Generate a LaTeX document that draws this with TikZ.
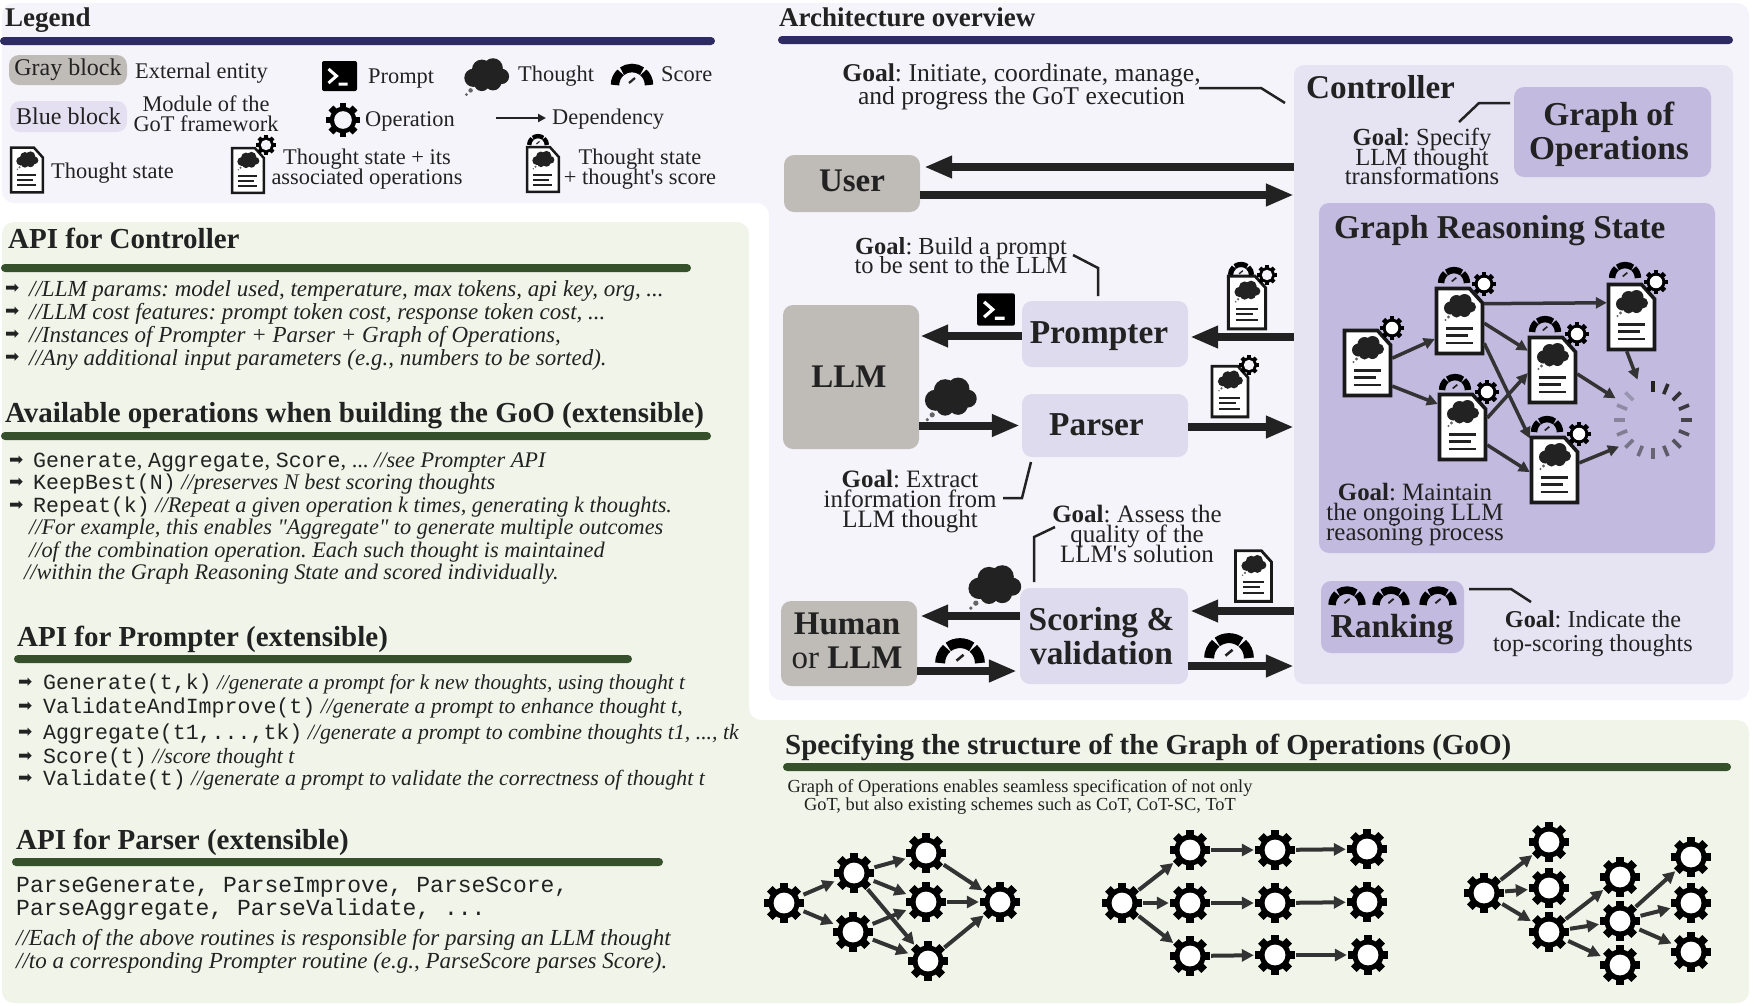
\documentclass[tikz,border=0pt]{standalone}
\usepackage{fontspec}
\setmainfont{Liberation Serif}[Ligatures=TeXOff]
\setmonofont{Liberation Mono}[Ligatures=TeXOff]
\newfontfamily\arrowfont{DejaVu Sans}
\usetikzlibrary{arrows.meta,calc}
\definecolor{ink}{HTML}{222222}
\definecolor{lav}{HTML}{F6F4FB}
\definecolor{grn}{HTML}{F1F5E9}
\definecolor{ctrlbg}{HTML}{E6E3F2}
\definecolor{lightblk}{HTML}{DFDBEE}
\definecolor{midblk}{HTML}{C2BBDF}
\definecolor{grayblk}{HTML}{BFBCB7}
\definecolor{navybar}{HTML}{2E2B63}
\definecolor{grnbar}{HTML}{35502B}
\definecolor{arrgray}{HTML}{333333}
\tikzset{
  x=1pt,y=-1pt,
  blk/.style={rectangle,rounded corners=10pt,inner sep=0pt,align=center,text=ink},
  bigarr/.style={draw=ink,line width=8pt,-{Triangle[length=28pt,width=21pt]}},
  medarr/.style={draw=arrgray,line width=3.5pt,-{Triangle[length=11pt,width=11pt]}},
  specarr/.style={draw=arrgray,line width=4pt,-{Triangle[length=12pt,width=12pt]}},
  callout/.style={draw=ink,line width=2.5pt},
  gearspot/.style={circle,minimum size=42pt,inner sep=0pt},
  docspot/.style={rectangle,minimum width=49pt,minimum height=68pt,inner sep=0pt},
  bar/.style={rounded corners=4pt,draw=none}
}
\newcount\tcnt
\newcommand\tightlines{\lineskiplimit=-100pt\relax}
% left-aligned line: x, visual centre y, size, content
\newcommand\TL[4]{\global\advance\tcnt by 1
  \node[name=t\the\tcnt,anchor=base west,inner sep=0pt,text=ink] at ({#1},{#2+0.28*#3}) {\fontsize{#3}{#3}\selectfont #4};}
% centred line
\newcommand\TC[4]{\global\advance\tcnt by 1
  \node[name=t\the\tcnt,anchor=base,inner sep=0pt,text=ink] at ({#1},{#2+0.28*#3}) {\fontsize{#3}{#3}\selectfont #4};}
% multi-line centred: x, y, size, skip, content
\newcommand\MT[5]{\global\advance\tcnt by 1
  \node[name=t\the\tcnt,inner sep=0pt,align=center,text=ink,font=\fontsize{#3}{#4}\selectfont\tightlines] at ({#1},{#2}) {#5};}
\newcommand\BUL[3]{\global\advance\tcnt by 1
  \node[name=t\the\tcnt,anchor=west,inner sep=0pt,text=ink] at ({#1},{#2}) {\fontsize{#3}{#3}\selectfont\arrowfont ➡};}
\newcommand\mn[1]{{\fontsize{21.6}{22}\selectfont\ttfamily #1}}
\newcommand\mnb[1]{{\fontsize{23}{23}\selectfont\ttfamily #1}}
\newcommand\CloudIcon[3]{\begin{scope}[shift={(#1,#2)},scale=#3]
  \fill[ink] (-9,2) circle[radius=6.5pt] (-3,-4) circle[radius=7pt] (5,-5) circle[radius=7pt]
    (11,1) circle[radius=5.5pt] (5,5) circle[radius=6pt] (-3,6) circle[radius=5.5pt] (0,0) circle[radius=8pt];
  \fill[ink!70] (-11,11) circle[radius=1.6pt] (-14,14) circle[radius=1.1pt];
  \end{scope}}
\newcommand\DocIcon[3]{\begin{scope}[shift={(#1,#2)},scale=#3]
  \pgfmathsetmacro\lwa{3.6*#3}\pgfmathsetmacro\lwb{2.6*#3}
  \filldraw[fill=white,draw=black!90,line width=\lwa pt,line join=miter] (-23,-32.5)--(10,-32.5)--(23,-18)--(23,32.5)--(-23,32.5)--cycle;
  \CloudIcon{0}{-15}{1}
  \draw[ink,line width=\lwb pt] (-14,7.7)--(13,7.7) (-14,14.7)--(8,14.7) (-14,22)--(13,22);
  \end{scope}}
\newcommand\GaugeIcon[3]{\begin{scope}[shift={(#1,#2)},scale=#3]
  \pgfmathsetmacro\lwa{8.5*#3}\pgfmathsetmacro\lwb{2.2*#3}
  \draw[black,line width=\lwa pt] (0:17pt) arc[start angle=0,end angle=48,radius=17pt];
  \draw[black,line width=\lwa pt] (54:17pt) arc[start angle=54,end angle=126,radius=17pt];
  \draw[black,line width=\lwa pt] (132:17pt) arc[start angle=132,end angle=180,radius=17pt];
  \draw[ink,line width=\lwb pt] (-3pt,2pt)--(3pt,7pt);
  \end{scope}}
% x y R holecolour
\newcommand\GearIcon[4]{\begin{scope}[shift={(#1,#2)}]
  \fill[black] (0,0) circle[radius=#3*0.78pt];
  \foreach \a in {0,45,90,135}{\fill[black,rotate=\a] ({-#3*0.2},{-#3}) rectangle ({#3*0.2},{#3});}
  \fill[#4] (0,0) circle[radius=#3*0.52pt];
  \end{scope}}
\newcommand\PromptIcon[3]{\begin{scope}[shift={(#1,#2)},scale=#3]
  \pgfmathsetmacro\lwa{3*#3}
  \fill[black,rounded corners=2pt] (-17.5,-15) rectangle (17.5,15);
  \draw[white,line width=\lwa pt] (-11,-7)--(-3,0)--(-11,7) (-1,8)--(8,8);
  \end{scope}}
\begin{document}
\frenchspacing
\begin{tikzpicture}
\useasboundingbox (0,0) rectangle (1755,1005);
\fill[white] (0,0) rectangle (1755,1005);
% panels
\fill[lav,rounded corners=12pt] (2,3)--(1749,3)--(1749,700)--(769,700)--(769,203)--(2,203)--cycle;
\fill[grn,rounded corners=12pt] (2,222)--(749,222)--(749,720)--(1749,720)--(1749,1003)--(2,1003)--cycle;
% bars
\fill[navybar,bar] (0,37) rectangle (715,45);
\fill[navybar,bar] (778,36) rectangle (1733,44);
\fill[grnbar,bar] (1,264) rectangle (691,272);
\fill[grnbar,bar] (1,432) rectangle (711,440);
\fill[grnbar,bar] (14,655) rectangle (632,663);
\fill[grnbar,bar] (12,858) rectangle (663,866);
\fill[grnbar,bar] (783,763) rectangle (1731,771);
% headings
\TL{5}{19}{27}{\textbf{Legend}}
\TL{779}{19}{27}{\textbf{Architecture overview}}
\TL{8}{240.5}{29}{\textbf{API for Controller}}
\TL{5}{414.5}{29}{\textbf{Available operations when building the GoO (extensible)}}
\TL{17}{638.5}{29}{\textbf{API for Prompter (extensible)}}
\TL{16}{841}{29}{\textbf{API for Parser (extensible)}}
\TL{785}{746}{29}{\textbf{Specifying the structure of the Graph of Operations (GoO)}}
% legend
\node[blk,fill=grayblk,minimum width=118pt,minimum height=30pt] (lgray) at (68,70) {\fontsize{24}{24}\selectfont Gray block};
\node[blk,fill=lightblk!80!lav,minimum width=117pt,minimum height=31pt] (lblue) at (68.5,116.5) {\fontsize{24}{24}\selectfont Blue block};
\TL{135}{72}{22.4}{External entity}
\MT{206}{114}{22.4}{20}{Module of the\\GoT framework}
\PromptIcon{339.5}{76}{1}
\TL{368}{77.5}{22.4}{Prompt}
\CloudIcon{486}{75}{1.4}
\TL{518}{75}{22.4}{Thought}
\GaugeIcon{632}{85}{1}
\TL{661}{75}{22.4}{Score}
\GearIcon{343}{120}{17}{lav}
\TL{365}{120}{22.4}{Operation}
\coordinate (depA) at (496,118);
\coordinate (depB) at (546,118);
\draw[draw=ink,line width=2.5pt,-{Triangle[length=8pt,width=8pt]}] (depA) -- (depB);
\TL{552}{118}{22.4}{Dependency}
\DocIcon{27}{170}{0.69}
\TL{51}{172}{22.4}{Thought state}
\DocIcon{248}{170.5}{0.69}
\GearIcon{266}{145}{10}{lav}
\MT{367}{169}{22.4}{20}{Thought state + its\\associated operations}
\DocIcon{543}{169.5}{0.69}
\GaugeIcon{538}{145}{0.52}
\MT{640}{169}{22.4}{20}{Thought state\\+ thought's score}
% API for controller
\BUL{5}{289}{17}\TL{29}{290}{23}{\textit{//LLM params: model used, temperature, max tokens, api key, org, ...}}
\BUL{5}{312}{17}\TL{29}{313}{23}{\textit{//LLM cost features: prompt token cost, response token cost, ...}}
\BUL{5}{335}{17}\TL{29}{336}{23}{\textit{//Instances of Prompter + Parser + Graph of Operations,}}
\BUL{5}{358}{17}\TL{29}{359}{23}{\textit{//Any additional input parameters (e.g., numbers to be sorted).}}
% available operations
\BUL{9}{461}{17}\TL{33}{461.5}{22.3}{\mn{Generate}, \mn{Aggregate}, \mn{Score}, ... \textit{//see Prompter API}}
\BUL{9}{483}{17}\TL{33}{483.5}{22.3}{\mn{KeepBest(N)} \textit{//preserves N best scoring thoughts}}
\BUL{9}{506}{17}\TL{33}{506.5}{22.3}{\mn{Repeat(k)} \textit{//Repeat a given operation k times, generating k thoughts.}}
\TL{29}{528.5}{22.3}{\textit{//For example, this enables "Aggregate" to generate multiple outcomes}}
\TL{29}{551.5}{22.3}{\textit{//of the combination operation. Each such thought is maintained}}
\TL{24}{573.5}{22.3}{\textit{//within the Graph Reasoning State and scored individually.}}
% prompter
\BUL{18}{683}{17}\TL{43}{683.5}{21.2}{\mn{Generate(t,k)} \textit{//generate a prompt for k new thoughts, using thought t}}
\BUL{18}{707}{17}\TL{43}{707.5}{21.8}{\mn{ValidateAndImprove(t)} \textit{//generate a prompt to enhance thought t,}}
\BUL{18}{733}{17}\TL{43}{733.5}{21.8}{\mn{Aggregate(t1,...,tk)} \textit{//generate a prompt to combine thoughts t1, ..., tk}}
\BUL{18}{757}{17}\TL{43}{757.5}{21.8}{\mn{Score(t)} \textit{//score thought t}}
\BUL{18}{779}{17}\TL{43}{779.5}{21.8}{\mn{Validate(t)} \textit{//generate a prompt to validate the correctness of thought t}}
% parser
\TL{16}{886}{22}{\mnb{ParseGenerate, ParseImprove, ParseScore,}}
\TL{16}{909}{22}{\mnb{ParseAggregate, ParseValidate, ...}}
\TL{16}{939}{23}{\textit{//Each of the above routines is responsible for parsing an LLM thought}}
\TL{16}{962.5}{23}{\textit{//to a corresponding Prompter routine (e.g., ParseScore parses Score).}}
% architecture blocks
\node[blk,fill=ctrlbg,minimum width=439pt,minimum height=619pt] (ctrl) at (1513.5,374.5) {};
\node[blk,fill=midblk,minimum width=197pt,minimum height=90pt] (goo) at (1612.5,132) {};
\node[blk,fill=midblk,minimum width=396pt,minimum height=350pt] (grs) at (1517,378) {};
\node[blk,fill=grayblk,minimum width=136pt,minimum height=57pt] (user) at (852,183.5) {};
\node[blk,fill=grayblk,minimum width=136pt,minimum height=144pt] (llm) at (851,377) {};
\node[blk,fill=lightblk,minimum width=166pt,minimum height=66pt] (prompter) at (1105,334) {};
\node[blk,fill=lightblk,minimum width=166pt,minimum height=63pt] (parser) at (1105,425.5) {};
\node[blk,fill=lightblk,minimum width=168pt,minimum height=96pt] (scoring) at (1104,636) {};
\node[blk,fill=grayblk,minimum width=136pt,minimum height=85pt] (human) at (849,643.5) {};
\node[blk,fill=midblk,minimum width=143pt,minimum height=72pt] (ranking) at (1392.5,617) {};
\TC{852}{182.5}{33}{\textbf{User}}
\TC{849}{378}{33}{\textbf{LLM}}
\MT{1609}{134}{33.4}{34}{\textbf{Graph of}\\\textbf{Operations}}
\TC{1099}{334}{33.4}{\textbf{Prompter}}
\TC{1096.5}{426.5}{33.4}{\textbf{Parser}}
\MT{1101.5}{636}{33.4}{34}{\textbf{Scoring \&}\\\textbf{validation}}
\MT{847}{641}{33}{34}{\textbf{Human}\\or \textbf{LLM}}
\TL{1306}{89}{33.2}{\textbf{Controller}}
\TL{1334}{229}{33.3}{\textbf{Graph Reasoning State}}
\TC{1392}{628}{33.5}{\textbf{Ranking}}
% big arrows
\draw[bigarr] ([yshift=16.5pt]ctrl.west |- user.east) -- ([yshift=16.5pt,xshift=4pt]user.east);
\draw[bigarr] ([yshift=-11.5pt]user.east) -- ([yshift=-11.5pt]ctrl.west |- user.east);
\draw[bigarr] ([yshift=-2pt]prompter.west) -- ([yshift=-2pt,xshift=1pt]llm.east |- prompter.west);
\draw[bigarr] ([yshift=-3pt]ctrl.west |- prompter.east) -- ([yshift=-3pt,xshift=2pt]prompter.east);
\draw[bigarr] (llm.east |- parser.west) -- ([xshift=-2pt]parser.west);
\draw[bigarr] ([yshift=-1.5pt]parser.east) -- ([yshift=-1.5pt]ctrl.west |- parser.east);
\draw[bigarr] ([yshift=20pt]scoring.west) -- ([yshift=20pt,xshift=3pt]human.east |- scoring.west);
\draw[bigarr] ([yshift=-35pt]human.east |- scoring.west) -- ([yshift=-35pt,xshift=-3pt]scoring.west);
\draw[bigarr] ([yshift=25pt]ctrl.west |- scoring.east) -- ([yshift=25pt,xshift=2pt]scoring.east);
\draw[bigarr] ([yshift=-30pt]scoring.east) -- ([yshift=-30pt]ctrl.west |- scoring.east);
% icons on the arrows
\PromptIcon{996}{309.5}{1.08}
\DocIcon{1247}{302.5}{0.81}
\GaugeIcon{1241}{275}{0.62}
\GearIcon{1267}{275}{10}{lav}
\DocIcon{1230}{391.5}{0.78}
\GearIcon{1249}{365}{10}{lav}
\CloudIcon{950}{397}{1.62}
\CloudIcon{994}{585}{1.65}
\GaugeIcon{960}{663}{1.17}
\DocIcon{1253.5}{576}{0.78}
\GaugeIcon{1229}{658}{1.17}
\GaugeIcon{1347}{605}{0.88}
\GaugeIcon{1391}{605}{0.88}
\GaugeIcon{1438}{605}{0.88}
% goal labels and callouts
\MT{1021.5}{87}{25.6}{23.5}{\textbf{Goal}: Initiate, coordinate, manage,\\and progress the GoT execution}
\coordinate (c1a) at (1199,88); \coordinate (c1b) at (1261,88); \coordinate (c1c) at (1285,103);
\draw[callout] (c1a)--(c1b)--(c1c);
\MT{1422}{156.5}{24.6}{19.6}{\textbf{Goal}: Specify\\LLM thought\\transformations}
\coordinate (c2a) at (1510,103); \coordinate (c2b) at (1479,103); \coordinate (c2c) at (1459,122);
\draw[callout] (c2a)--(c2b)--(c2c);
\MT{961}{255.5}{24.5}{19}{\textbf{Goal}: Build a prompt\\to be sent to the LLM}
\coordinate (c3a) at (1073,255); \coordinate (c3b) at (1098,268); \coordinate (c3c) at (1098,296);
\draw[callout] (c3a)--(c3b)--(c3c);
\MT{910}{501.5}{25}{20}{\textbf{Goal}: Extract\\information from\\LLM thought}
\coordinate (c4a) at (1031,462); \coordinate (c4b) at (1022,498); \coordinate (c4c) at (1003,498);
\draw[callout] (c4a)--(c4b)--(c4c);
\MT{1137}{534}{25}{20}{\textbf{Goal}: Assess the\\quality of the\\LLM's solution}
\coordinate (c5a) at (1055,527); \coordinate (c5b) at (1034,537); \coordinate (c5c) at (1034,582);
\draw[callout] (c5a)--(c5b)--(c5c);
\MT{1593}{634}{24.2}{24}{\textbf{Goal}: Indicate the\\top-scoring thoughts}
\coordinate (c6a) at (1469,589); \coordinate (c6b) at (1511,589); \coordinate (c6c) at (1531,602);
\draw[callout] (c6a)--(c6b)--(c6c);
\MT{1415}{515}{24.9}{20}{\textbf{Goal}: Maintain\\the ongoing LLM\\reasoning process}
% graph reasoning state
\node[docspot] (dA) at (1367.5,363) {};
\node[docspot] (dB) at (1459.5,321) {};
\node[docspot] (dC) at (1462.5,427) {};
\node[docspot] (dD) at (1552.5,370) {};
\node[docspot] (dE) at (1554.5,470) {};
\node[docspot] (dF) at (1631.5,317) {};
\node[circle,minimum size=86pt,inner sep=0pt] (spin) at (1653,420) {};
\DocIcon{1367.5}{363}{1}\GearIcon{1392}{328}{12}{white}
\DocIcon{1459.5}{321}{1}\GaugeIcon{1454}{283}{0.76}\GearIcon{1484}{284}{12}{white}
\DocIcon{1462.5}{427}{1}\GaugeIcon{1455}{390}{0.76}\GearIcon{1487}{392}{12}{white}
\DocIcon{1552.5}{370}{1}\GaugeIcon{1545}{332}{0.76}\GearIcon{1577}{334}{12}{white}
\DocIcon{1554.5}{470}{1}\GaugeIcon{1547}{432}{0.76}\GearIcon{1579}{434}{12}{white}
\DocIcon{1631.5}{317}{1}\GaugeIcon{1625}{278}{0.76}\GearIcon{1656}{282}{12}{white}
\draw[medarr] (dA.11) -- (dB.216);
\draw[medarr] (dA.-43) -- (dC.137);
\draw[medarr] (dB.35) -- (dF.150);
\draw[medarr] (dB.-5) -- (dD.142);
\draw[medarr] (dB.-42) -- (dE.128);
\draw[medarr] (dC.20) -- (dD.187);
\draw[medarr] (dC.-36) -- (dE.185);
\draw[medarr] (dD.-9) -- (spin.150);
\draw[medarr] (dE.16) -- (spin.218);
\draw[medarr] (dF.262) -- (spin.111);
\foreach \i in {0,...,14}{
  \pgfmathsetmacro\ang{90-22.5*\i}
  \pgfmathtruncatemacro\op{100-5.3*\i}
  \draw[ink!\op!midblk,line width=3.6pt] ([shift={(\ang:28pt)}]spin.center) -- ([shift={(\ang:39pt)}]spin.center);
}
% specification graphs
\MT{1020}{797}{18.4}{18}{Graph of Operations enables seamless specification of not only\\GoT, but also existing schemes such as CoT, CoT-SC, ToT}
\foreach \n/\x/\y in {g1/784/903,g2/854/873,g3/853/932,g4/926/853,g5/926/902,g6/928/961,g7/1000/902,
  m0/1122/903,m1/1190/850,m2/1275/850,m3/1367/849,m4/1190/903,m5/1275/903,m6/1367/902,m7/1190/956,m8/1275/955,m9/1368/955,
  a0/1484/893,b1/1549/842,b2/1549/888,b3/1549/932,k1/1620/877,k2/1620/921,k3/1620/965,d1/1691/857,d2/1691/903,d3/1691/952}{
  \node[gearspot,name=\n] at (\x,\y) {};
  \GearIcon{\x}{\y}{20}{white}
}
\foreach \a/\b in {g1/g2,g1/g3,g2/g4,g2/g5,g2/g6,g3/g5,g3/g6,g4/g7,g5/g7,g6/g7,
  m0/m1,m0/m4,m0/m7,m1/m2,m2/m3,m4/m5,m5/m6,m7/m8,m8/m9,
  a0/b1,a0/b2,a0/b3,b3/k1,b3/k2,b3/k3,k2/d1,k2/d2,k2/d3}{
  \draw[specarr] (\a) -- (\b);
}
\end{tikzpicture}
\end{document}
